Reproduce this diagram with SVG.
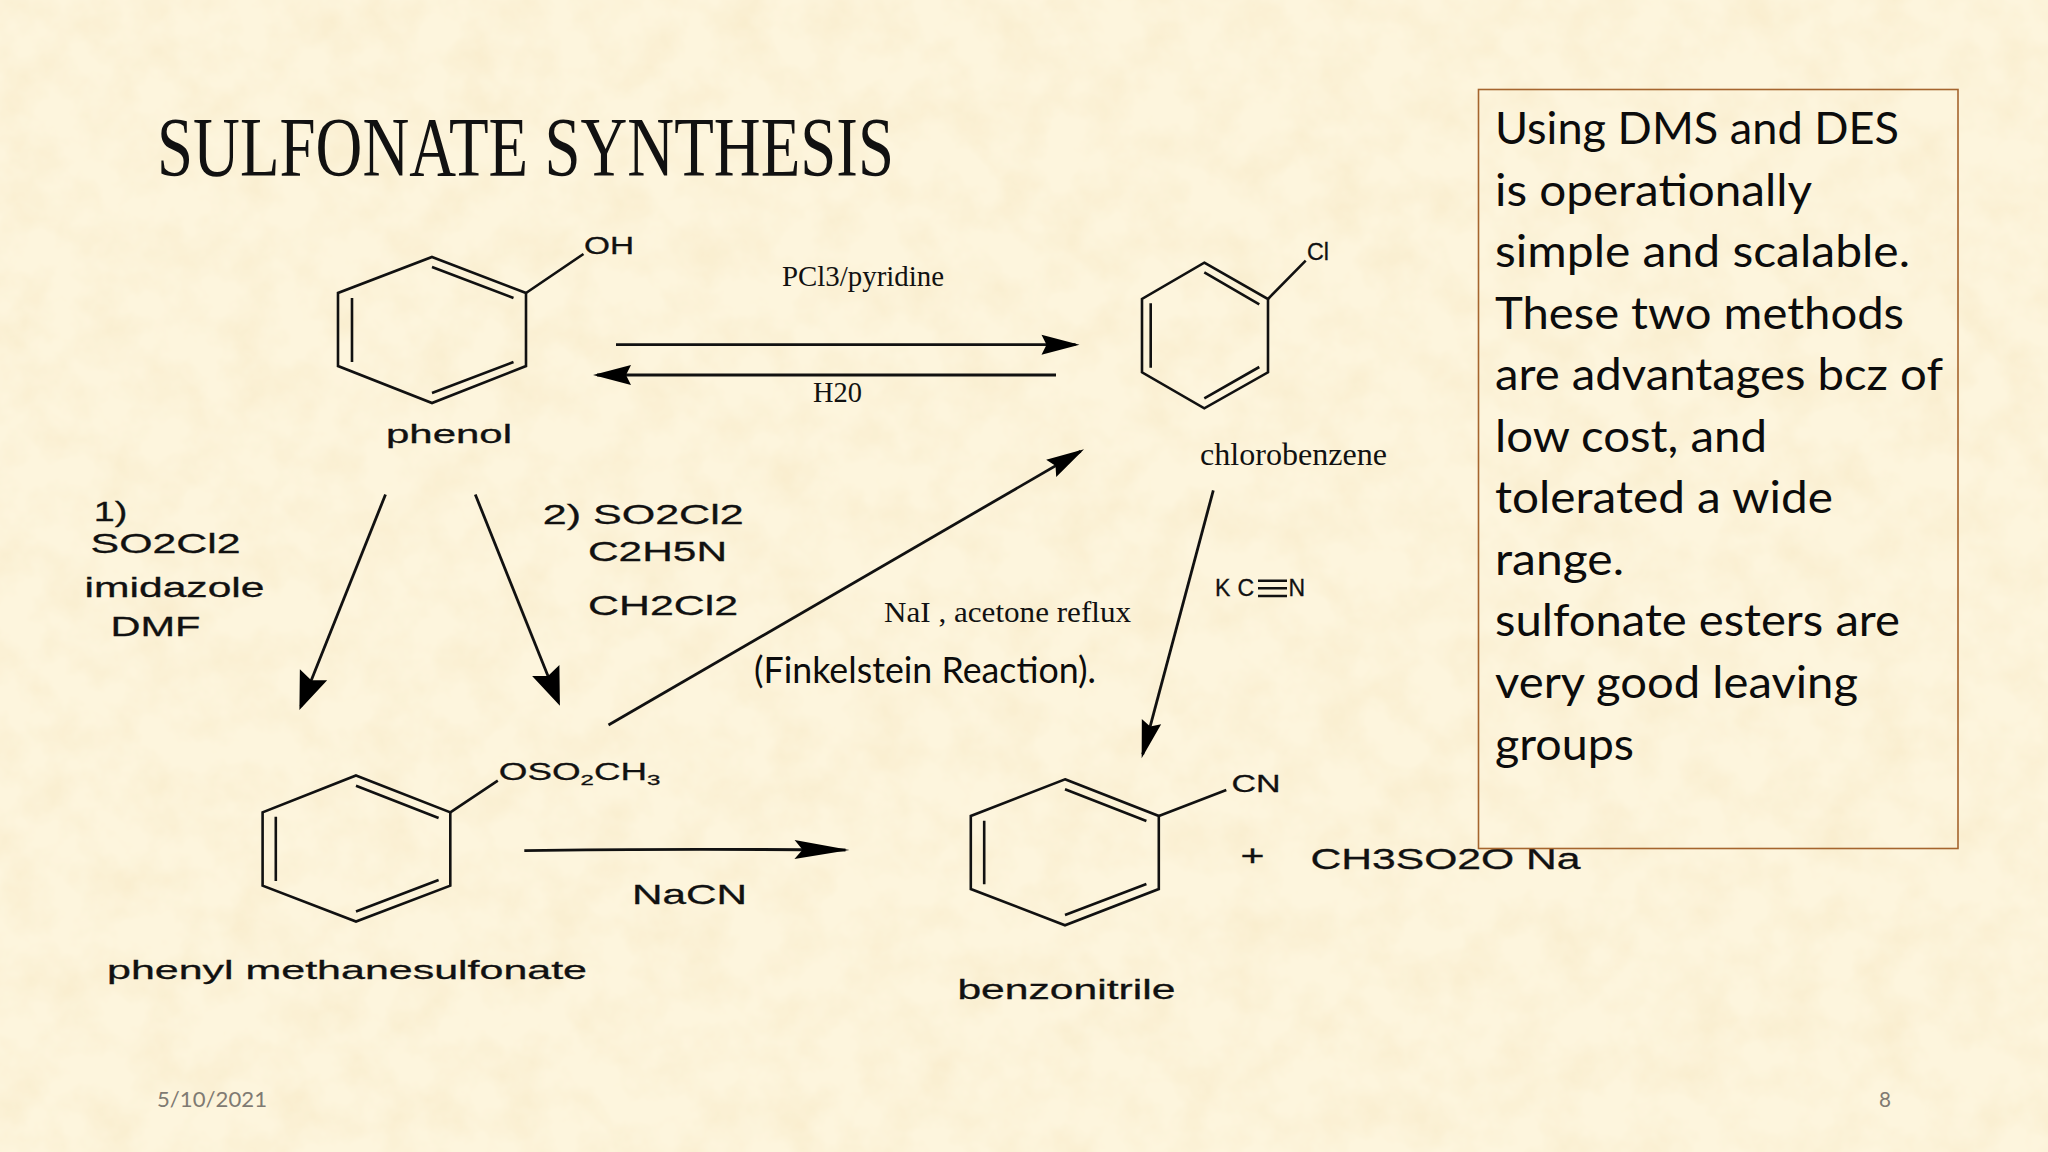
<svg xmlns="http://www.w3.org/2000/svg" width="2048" height="1152" viewBox="0 0 2048 1152">
<style>
.a{font-family:"Liberation Sans",Arial,sans-serif;fill:#111;stroke:#111;stroke-width:.3}
.s{font-family:"Liberation Serif","Times New Roman",serif;fill:#111}
.c{font-family:Lato,"Open Sans",sans-serif;fill:#0c0c0c}
.b{font-size:45px}
.f{font-size:22px;fill:#7f7a72}
.r{fill:none;stroke:#111;stroke-width:2.6;stroke-linejoin:miter}
.w{stroke:#111;stroke-width:2.6;fill:none}
.k{stroke:#111;stroke-width:2.8;fill:none}
</style>
<defs>
<filter id="paper" x="0" y="0" width="100%" height="100%">
<feTurbulence type="fractalNoise" baseFrequency="0.022" numOctaves="4" seed="7"/>
<feColorMatrix type="matrix" values="0 0 0 0 0.95 0 0 0 0 0.85 0 0 0 0 0.62 1.8 0 0 0 -0.66"/>
</filter>
<marker id="hs" markerUnits="userSpaceOnUse" markerWidth="50" markerHeight="30" viewBox="-42 -15 50 30" refX="0" refY="0" orient="auto"><path d="M4,0L-34,-10L-29,0L-34,10Z" fill="#000"/></marker>
<marker id="hl" markerUnits="userSpaceOnUse" markerWidth="66" markerHeight="30" viewBox="-58 -15 66 30" refX="0" refY="0" orient="auto"><path d="M4,0L-51,-9.5L-43,0L-51,9.5Z" fill="#000"/></marker>
<marker id="hw" markerUnits="userSpaceOnUse" markerWidth="50" markerHeight="36" viewBox="-42 -18 50 36" refX="0" refY="0" orient="auto"><path d="M4,0L-34,-14.7L-28,0L-34,14.7Z" fill="#000"/></marker>
</defs>
<rect width="2048" height="1152" fill="#fdf5dd"/>
<rect width="2048" height="1152" filter="url(#paper)"/>

<text id="title" class="s" x="157" y="176" font-size="85" textLength="737" lengthAdjust="spacingAndGlyphs">SULFONATE SYNTHESIS</text>

<g id="connectors">
<path class="k" d="M616,344.7H1075.5" marker-end="url(#hs)"/>
<path class="k" d="M1056,375H597" marker-end="url(#hs)"/>
<path class="k" d="M385.5,494.5L300.9,706.3" marker-end="url(#hw)"/>
<path class="k" d="M475.3,494.5L558.4,702" marker-end="url(#hw)"/>
<path class="k" d="M608.5,725L1080.6,451.3" marker-end="url(#hs)"/>
<path class="k" d="M1213.3,490.3L1142.7,754.4" marker-end="url(#hs)"/>
<path class="k" d="M524.3,850.6Q660,848.5 845.5,850" marker-end="url(#hl)"/>
</g>

<g id="phenol">
<polygon class="r" points="432,257 526,293 526,366 432,403 338,366 338,293"/>
<path class="w" d="M432,267L513.5,298M352,298V362M513.5,362L432,393M526,293L583.5,254"/>
<text class="a" x="584" y="254" font-size="23" textLength="50" lengthAdjust="spacingAndGlyphs">OH</text>
<text class="a" x="386" y="443" font-size="26" textLength="126" lengthAdjust="spacingAndGlyphs">phenol</text>
</g>

<g id="chlorobenzene">
<polygon class="r" points="1204.3,262.7 1268,299 1268,372.3 1204.3,408.3 1142,372.3 1142,299"/>
<path class="w" d="M1204.3,272.3L1259.3,304.3M1150.7,303.3V367.7M1259.3,367L1204.3,398.3M1268,299L1305.7,260.7"/>
<text class="a" x="1307" y="260" font-size="23" textLength="22" lengthAdjust="spacingAndGlyphs">Cl</text>
<text class="s" x="1200" y="465" font-size="31" textLength="187" lengthAdjust="spacingAndGlyphs">chlorobenzene</text>
</g>

<g id="phenyl-methanesulfonate">
<polygon class="r" points="356,775.5 450.3,812.3 450.3,885.6 356,921.5 262.6,885.6 262.6,812.3"/>
<path class="w" d="M356,785.8L438.6,818M275.8,816.8V881M438.6,880L356,911.5M450.3,812.3L497.8,780.6"/>
<text class="a" transform="translate(498.8,780) scale(1.6,1)" font-size="23">OSO<tspan font-size="15" dy="4.5">2</tspan><tspan dy="-4.5">CH</tspan><tspan font-size="15" dy="4.5">3</tspan></text>
<text class="a" x="107" y="978.6" font-size="26" textLength="480" lengthAdjust="spacingAndGlyphs">phenyl methanesulfonate</text>
</g>

<g id="benzonitrile">
<polygon class="r" points="1065,779.3 1158.8,816 1158.8,889 1065,925.3 970.8,889 970.8,816"/>
<path class="w" d="M1065,789.3L1146.4,821M984.2,820.7V884.3M1146.4,884L1065,915M1158.8,816L1226.3,790"/>
<text class="a" x="1231.6" y="791.7" font-size="24" textLength="49" lengthAdjust="spacingAndGlyphs">CN</text>
<text class="a" x="957.4" y="999.3" font-size="27" textLength="218" lengthAdjust="spacingAndGlyphs">benzonitrile</text>
</g>

<g id="sodium-methanesulfonate">
<text class="a" x="1240.6" y="865.5" font-size="30" textLength="24" lengthAdjust="spacingAndGlyphs">+</text>
<text class="a" x="1310.5" y="869" font-size="29" textLength="270" lengthAdjust="spacingAndGlyphs">CH3SO2O Na</text>
</g>

<g id="reagents">
<text class="s" x="782" y="286" font-size="29" textLength="162" lengthAdjust="spacingAndGlyphs">PCl3/pyridine</text>
<text class="s" x="813" y="402" font-size="29" textLength="49" lengthAdjust="spacingAndGlyphs">H20</text>
<text class="a" x="93.7" y="520.6" font-size="28" textLength="33.6" lengthAdjust="spacingAndGlyphs">1)</text>
<text class="a" x="90.6" y="553" font-size="28" textLength="150" lengthAdjust="spacingAndGlyphs">SO2Cl2</text>
<text class="a" x="84.5" y="597" font-size="28" textLength="180" lengthAdjust="spacingAndGlyphs">imidazole</text>
<text class="a" x="110.5" y="635.6" font-size="28" textLength="90" lengthAdjust="spacingAndGlyphs">DMF</text>
<text class="a" x="542.7" y="524" font-size="28" textLength="201" lengthAdjust="spacingAndGlyphs">2) SO2Cl2</text>
<text class="a" x="588" y="561" font-size="28" textLength="139" lengthAdjust="spacingAndGlyphs">C2H5N</text>
<text class="a" x="588" y="615.3" font-size="28" textLength="150" lengthAdjust="spacingAndGlyphs">CH2Cl2</text>
<text class="a" x="632" y="903.5" font-size="28" textLength="115" lengthAdjust="spacingAndGlyphs">NaCN</text>
<text class="s" x="884" y="621.7" font-size="29" textLength="247" lengthAdjust="spacingAndGlyphs">NaI , acetone reflux</text>
<text class="c" x="754" y="683" font-size="37" textLength="342" lengthAdjust="spacingAndGlyphs">(Finkelstein Reaction).</text>
<g id="kcn">
<text class="a" x="1215" y="596" font-size="23">K</text>
<text class="a" x="1237.5" y="596" font-size="23">C</text>
<path class="w" d="M1258,580.7H1287M1258,588.3H1287M1258,596H1287"/>
<text class="a" x="1288.5" y="596" font-size="23">N</text>
</g>
</g>

<g id="note">
<rect x="1478.5" y="89.5" width="479.5" height="759" fill="none" stroke="#a5652e" stroke-width="1.6"/>
<text class="c b" x="1495" y="144" textLength="404" lengthAdjust="spacingAndGlyphs">Using DMS and DES</text>
<text class="c b" x="1495" y="205.5" textLength="317" lengthAdjust="spacingAndGlyphs">is operationally</text>
<text class="c b" x="1495" y="267" textLength="415" lengthAdjust="spacingAndGlyphs">simple and scalable.</text>
<text class="c b" x="1495" y="328.7" textLength="409" lengthAdjust="spacingAndGlyphs">These two methods</text>
<text class="c b" x="1495" y="390.2" textLength="448" lengthAdjust="spacingAndGlyphs">are advantages bcz of</text>
<text class="c b" x="1495" y="451.8" textLength="272" lengthAdjust="spacingAndGlyphs">low cost, and</text>
<text class="c b" x="1495" y="513.3" textLength="338" lengthAdjust="spacingAndGlyphs">tolerated a wide</text>
<text class="c b" x="1495" y="574.9" textLength="129" lengthAdjust="spacingAndGlyphs">range.</text>
<text class="c b" x="1495" y="636.4" textLength="405" lengthAdjust="spacingAndGlyphs">sulfonate esters are</text>
<text class="c b" x="1495" y="698" textLength="363" lengthAdjust="spacingAndGlyphs">very good leaving</text>
<text class="c b" x="1495" y="759.5" textLength="139" lengthAdjust="spacingAndGlyphs">groups</text>
</g>

<g id="footer">
<text class="c f" x="157" y="1107" textLength="110" lengthAdjust="spacingAndGlyphs">5/10/2021</text>
<text class="c f" x="1879" y="1107" textLength="12" lengthAdjust="spacingAndGlyphs">8</text>
</g>
</svg>
